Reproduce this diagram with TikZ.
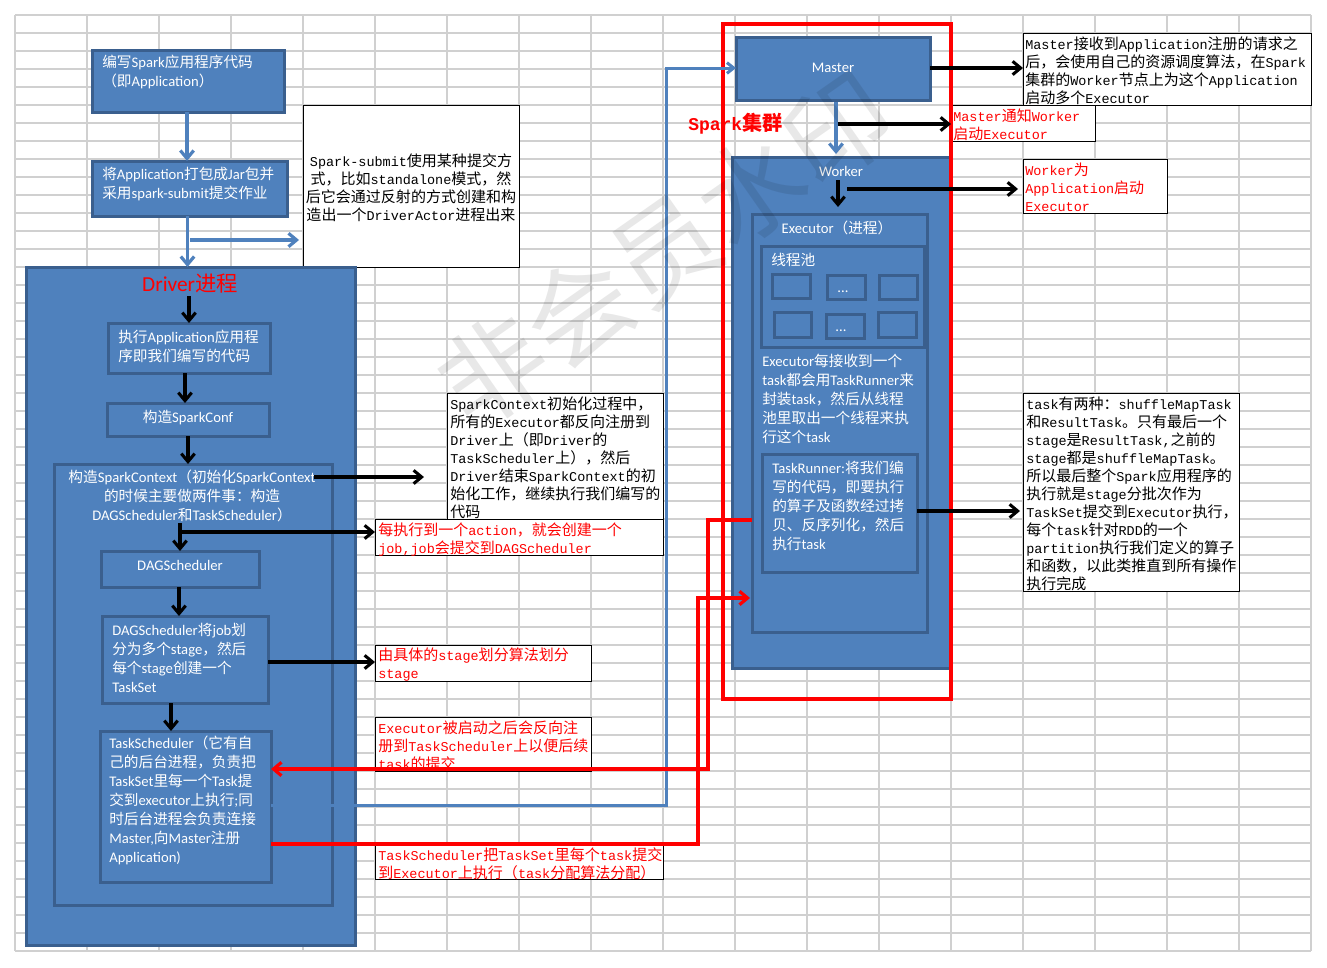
\documentclass[tikz,border=0pt]{standalone}
\usepackage{fontspec}
\usetikzlibrary{arrows.meta}
\setmainfont{Carlito}
\newfontfamily\lmono{Liberation Mono}
\newfontfamily\lcal{Carlito}
\newfontfamily\cjkm[Scale=1.115]{Noto Sans CJK SC}
\newfontfamily\cjkw{Noto Sans CJK SC}
\newfontfamily\cjkb[Scale=1.12]{Noto Sans CJK SC}
% automatic switch between the Latin and the CJK face
\newXeTeXintercharclass\cjkclass
\newcount\cjkcnt
\newcommand\setcjkrange[2]{\cjkcnt=#1\relax
  \loop\ifnum\cjkcnt<#2\relax\XeTeXcharclass\cjkcnt=\cjkclass\advance\cjkcnt 1\repeat}
\setcjkrange{"3000}{"3040}
\setcjkrange{"4E00}{"A000}
\setcjkrange{"FF00}{"FFF0}
\def\curlat{\lcal}\def\curcjk{\cjkw}
\XeTeXinterchartoks 0 \cjkclass={\curcjk}
\XeTeXinterchartoks 4095 \cjkclass={\curcjk}
\XeTeXinterchartoks \cjkclass 0={\curlat}
\XeTeXinterchartoks \cjkclass 4095={\curlat}
\XeTeXinterchartoks 4095 0={\curlat}
\AtBeginDocument{\XeTeXinterchartokenstate=1 \lineskiplimit=-\maxdimen}
\newcommand\fsM{\fontsize{10.1}{13.5}\selectfont\lineskiplimit=-\maxdimen\def\curlat{\lmono}\def\curcjk{\cjkm}\lmono}
\newcommand\fsW{\fontsize{11}{14.25}\selectfont\lineskiplimit=-\maxdimen\def\curlat{\lcal}\def\curcjk{\cjkw}\lcal}
\newcommand\fsD{\fontsize{16}{19}\selectfont\def\curlat{\lcal}\def\curcjk{\cjkw}\lcal}
\newcommand\fsS{\fontsize{13.5}{18}\selectfont\bfseries\def\curlat{\lmono}\def\curcjk{\cjkb}\lmono}
\newcommand\bx[6]{\pgfmathsetmacro\myw{(#5-#3)*0.75}\pgfmathsetmacro\myh{(#6-#4)*0.75}%
  \node[#1,anchor=north west,minimum width=\myw pt,minimum height=\myh pt] (#2) at (#3,#4) {};}
\definecolor{sheet}{HTML}{D0D0D0}
\definecolor{bfill}{HTML}{4F81BD}
\definecolor{bline}{HTML}{3A5F8E}
\tikzset{
  notebox/.style={draw=black,fill=white,line width=.75pt,inner sep=0pt,outer sep=0pt},
  bluebox/.style={draw=bline,fill=bfill,line width=2.25pt,inner sep=0pt,outer sep=0pt},
  monotxt/.style={anchor=north west,inner sep=0pt,align=left,text=black,font=\fsM},
  redtxt/.style={monotxt,text=red},
  whitetxt/.style={anchor=north west,inner sep=0pt,align=left,text=white,font=\fsW},
  whitemid/.style={anchor=center,inner sep=0pt,align=center,text=white,font=\fsW},
  bluearr/.style={draw=bfill,line width=2.4pt,-{Straight Barb[length=6pt,width=10pt]}},
  bluerun/.style={draw=bfill,line width=2.25pt,-{Straight Barb[length=5pt,width=8pt]}},
  blackarr/.style={draw=black,line width=2.3pt,-{Straight Barb[length=6pt,width=10pt]}},
  redarr/.style={draw=red,line width=2.4pt,-{Straight Barb[length=6pt,width=10pt]}},
}
\begin{document}
\begin{tikzpicture}[x=.75pt,y=-.75pt]
\fill[white] (0,0) rectangle (1327,967);
\useasboundingbox (0,0) rectangle (1327,967);
% sheet grid
\foreach \k in {0,...,52}{\draw[sheet,line width=.8pt] (15,15+18*\k) -- (1311,15+18*\k);}
\foreach \k in {0,...,18}{\draw[sheet,line width=.8pt] (15+72*\k,15) -- (15+72*\k,951);}
% note boxes
\bx{notebox}{nA}{303}{105}{519}{267}
\bx{notebox}{nB}{447}{393}{663}{519}
\bx{notebox}{nC}{375}{519}{663}{555}
\bx{notebox}{nD}{375}{645}{591}{681}
\bx{notebox}{nE}{375}{717}{591}{771}
\bx{notebox}{nF}{375}{843}{663}{879}
\bx{notebox}{nG}{1023}{33}{1311}{105}
\bx{notebox}{nH}{951}{105}{1095}{141}
\bx{notebox}{nI}{1023}{159}{1167}{213}
\bx{notebox}{nJ}{1023}{393}{1239}{591}
\node[monotxt,anchor=center,align=center] (tA) at (411,188) {\strut Spark-submit使用某种提交方\\式，比如standalone模式，然\\后它会通过反射的方式创建和构\\造出一个DriverActor进程出来};
\node[monotxt] (tB) at (450,397) {\strut SparkContext初始化过程中，\\所有的Executor都反向注册到\\Driver上（即Driver的\\TaskScheduler上），然后\\Driver结束SparkContext的初\\始化工作，继续执行我们编写的\\代码};
\node[redtxt] (tC) at (378,523) {\strut 每执行到一个action，就会创建一个\\job,job会提交到DAGScheduler};
\node[redtxt] (tD) at (378,648) {\strut 由具体的stage划分算法划分\\stage};
\node[redtxt] (tE) at (378,721) {\strut Executor被启动之后会反向注\\册到TaskScheduler上以便后续\\task的提交};
\node[redtxt] (tF) at (378,847) {\strut TaskScheduler把TaskSet里每个task提交\\到Executor上执行（task分配算法分配）};
\node[monotxt] (tG) at (1025,37) {\strut Master接收到Application注册的请求之\\后，会使用自己的资源调度算法，在Spark\\集群的Worker节点上为这个Application\\启动多个Executor};
\node[redtxt] (tH) at (953,109) {\strut Master通知Worker\\启动Executor};
\node[redtxt] (tI) at (1025,163) {\strut Worker为\\Application启动\\Executor};
\node[monotxt] (tJ) at (1026,397) {\strut task有两种：shuffleMapTask\\和ResultTask。只有最后一个\\stage是ResultTask,之前的\\stage都是shuffleMapTask。\\所以最后整个Spark应用程序的\\执行就是stage分批次作为\\TaskSet提交到Executor执行，\\每个task针对RDD的一个\\partition执行我们定义的算子\\和函数，以此类推直到所有操作\\执行完成};
% left column
\bx{bluebox}{app}{92}{50}{284}{112}
\bx{bluebox}{jar}{92}{161}{287}{216}
\bx{bluebox}{driver}{26}{267}{355}{945}
\bx{bluebox}{runapp}{108}{323}{270}{373}
\bx{bluebox}{conf}{107}{403}{269}{436}
\bx{bluebox}{ctx}{54}{464}{332}{905}
\bx{bluebox}{dag}{101}{551}{259}{587}
\bx{bluebox}{dagtwo}{102}{616}{268}{703}
\bx{bluebox}{ts}{100}{731}{271}{882}
% right column
\bx{bluebox}{master}{736}{37}{930}{100}
\bx{bluebox}{worker}{732}{157}{950}{668}
\bx{bluebox}{exec}{752}{214}{927}{632}
\bx{bluebox}{pool}{761}{246}{924}{347}
\bx{bluebox}{sa}{772}{274}{810}{298}
\bx{bluebox}{sb}{827}{275}{865}{299}
\bx{bluebox}{sc}{879}{275}{917}{299}
\bx{bluebox}{sd}{774}{312}{811}{337}
\bx{bluebox}{se}{826}{314}{864}{338}
\bx{bluebox}{sf}{878}{312}{916}{337}
\bx{bluebox}{runner}{762}{454}{917}{572}
% white labels
\node[whitetxt] (lapp) at (102,54) {\strut 编写Spark应用程序代码\\（即Application）};
\node[whitetxt] (ljar) at (102,166) {\strut 将Application打包成Jar包并\\采用spark-submit提交作业};
\node[anchor=center,inner sep=0pt,text=red,font=\fsD] (ldriver) at (190,284) {Driver进程};
\node[whitetxt] (lrun) at (118,329) {\strut 执行Application应用程\\序即我们编写的代码};
\node[whitemid] (lconf) at (188,419) {\strut 构造SparkConf};
\node[whitemid] (lctx) at (192,496) {\strut 构造SparkContext（初始化SparkContext\\的时候主要做两件事：构造\\DAGScheduler和TaskScheduler）};
\node[whitemid] (ldag) at (180,567) {\strut DAGScheduler};
\node[whitetxt] (ldagtwo) at (112,622) {\strut DAGScheduler将job划\\分为多个stage，然后\\每个stage创建一个\\TaskSet};
\node[whitetxt] (lts) at (109,735) {\strut TaskScheduler（它有自\\己的后台进程，负责把\\TaskSet里每一个Task提\\交到executor上执行;同\\时后台进程会负责连接\\Master,向Master注册\\Application)};
\node[whitemid] (lmaster) at (833,69) {\strut Master};
\node[whitemid] (lworker) at (841,173) {\strut Worker};
\node[whitemid] (lexec) at (837,230) {\strut Executor（进程）};
\node[whitetxt] (lpool) at (771,252) {\strut 线程池};
\node[whitemid] (ldb) at (843,289) {\strut ...};
\node[whitemid] (lde) at (841,328) {\strut ...};
\node[whitetxt] (lexecd) at (762,353) {\strut Executor每接收到一个\\task都会用TaskRunner来\\封装task，然后从线程\\池里取出一个线程来执\\行这个task};
\node[whitetxt] (lrunner) at (772,460) {\strut TaskRunner:将我们编\\写的代码，即要执行\\的算子及函数经过拷\\贝、反序列化，然后\\执行task};
% red frame
\node[draw=red,line width=2.7pt,inner sep=0pt,outer sep=0pt,minimum width=171pt,minimum height=506.25pt,anchor=north west] (cluster) at (723,24) {};
\node[anchor=west,inner sep=0pt,text=red,font=\fsS] (lcluster) at (688,124) {Spark集群};
% blue connectors
\coordinate (jbranch) at (190,240);
\coordinate (pnoteA) at (299,240);
\coordinate (tstomaster) at (666,805);
\coordinate (mastertip) at (666,68);
\draw[bluearr] (187,0 |- app.south) -- (187,0 |- jar.north);
\draw[bluearr] (187.5,0 |- jar.south) -- (187.5,0 |- driver.north);
\draw[bluearr] (jbranch) -- (pnoteA);
\draw[bline,line width=1.2pt] (ts.east |- 0,806) -- (driver.east |- 0,806);
\draw[bluerun] (ts.east |- tstomaster) -- (tstomaster) -- (mastertip) -- (master.west |- mastertip);
\draw[bluearr] (836,0 |- master.south) ++(0,2) -- (836,154);
% black connectors
\draw[blackarr] (189,296) -- (189,0 |- runapp.north);
\draw[blackarr] (185,0 |- runapp.south) -- (185,0 |- conf.north);
\draw[blackarr] (188,0 |- conf.south) -- (188,0 |- ctx.north);
\draw[blackarr] (180,523) -- (180,0 |- dag.north);
\draw[blackarr] (179,0 |- dag.south) -- (179,0 |- dagtwo.north);
\draw[blackarr] (171,0 |- dagtwo.south) -- (171,0 |- ts.north);
\coordinate (ctxstart) at (314,477);
\coordinate (ctxtip) at (424,477);
\draw[blackarr] (ctxstart) -- (ctxtip);
\coordinate (jobstart) at (180,532);
\draw[blackarr] (jobstart) -- (nC.west |- jobstart);
\draw[blackarr] (dagtwo.east |- 0,662) -- (nD.west |- 0,662);
\draw[blackarr] (master.east |- 0,68) -- (nG.west |- 0,68);
\coordinate (notifystart) at (838,124);
\draw[blackarr] (notifystart) -- (nH.west |- notifystart);
\draw[blackarr] (838,180) -- (838,207);
\coordinate (wstart) at (847,189);
\coordinate (wtip) at (1018,189);
\draw[blackarr] (wstart) -- (wtip);
\coordinate (rtip) at (1020,511);
\draw[blackarr] (runner.east |- rtip) -- (rtip);
% red connectors
\coordinate (ra) at (708,520);
\coordinate (rb) at (708,769);
\draw[redarr] (exec.west |- ra) -- (ra) -- (rb) -- (ts.east |- rb);
\coordinate (rc) at (698,844);
\coordinate (rd) at (698,598);
\coordinate (re) at (750,598);
\draw[redarr] (ts.east |- rc) -- (rc) -- (rd) -- (re);
% watermark
\node[anchor=center,rotate=35,inner sep=0pt,text=black,text opacity=.09,font=\fontsize{79}{90}\selectfont\cjkw] (mark) at (665,250) {非会员水印};
\end{tikzpicture}
\end{document}
